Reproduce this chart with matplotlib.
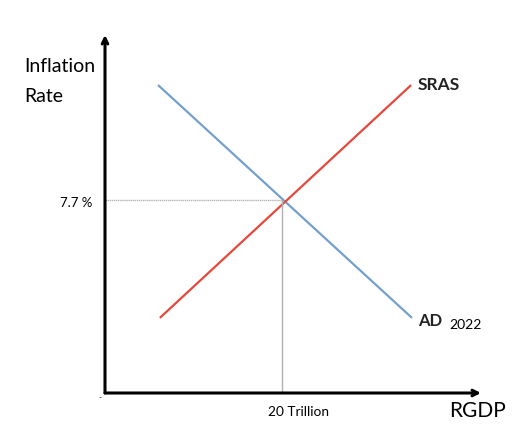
import matplotlib
matplotlib.use('Agg')
import matplotlib.pyplot as plt

plt.rcParams['font.family'] = ['Lato', 'DejaVu Sans']

# data (x in trillions of RGDP, y in inflation %)
ad_x = [6.0, 34.7]
ad_y = [12.3, 3.0]
sras_x = [6.2, 34.6]
sras_y = [3.0, 12.3]
eq_x = 20.0
eq_y = 7.7
x_max = 42.5
y_max = 14.3

fig = plt.figure(figsize=(5.16, 4.30), dpi=100)
ax = fig.add_axes([105/516, 37/430, 376/516, 358/430])
ax.set_xlim(0, x_max)
ax.set_ylim(0, y_max)
ax.axis('off')

# axes with arrows
ax.annotate('', xy=(x_max, 0), xytext=(0, 0), annotation_clip=False,
            arrowprops=dict(arrowstyle='->', color='black', lw=2.2, shrinkA=0, shrinkB=0))
ax.annotate('', xy=(0, y_max), xytext=(0, 0), annotation_clip=False,
            arrowprops=dict(arrowstyle='->', color='black', lw=2.2, shrinkA=0, shrinkB=0))

# curves
ax.plot(ad_x, ad_y, color='#74a0cc', lw=1.6, solid_capstyle='butt')
ax.plot(sras_x, sras_y, color='#e5483d', lw=1.6, solid_capstyle='butt')

# equilibrium guides
ax.plot([0, eq_x], [eq_y, eq_y], color='#b4b4b4', lw=1.0, linestyle=(0, (1, 0.5)))
ax.plot([eq_x, eq_x], [0, eq_y], color='#b0b0b0', lw=1.0)

# labels
fig.text(24/516, 1 - 67/430, 'Inflation', fontsize=14, va='center', ha='left')
fig.text(24/516, 1 - 97/430, 'Rate', fontsize=14, va='center', ha='left')
fig.text(92/516, 1 - 203/430, '7.7 %', fontsize=9.5, va='center', ha='right')
fig.text(268/516, 1 - 412/430, '20 Trillion', fontsize=9.8, va='center', ha='left')
fig.text(449/516, 1 - 411/430, 'RGDP', fontsize=15, va='center', ha='left')
fig.text(418/516, 1 - 85/430, 'SRAS', fontsize=12.5, va='center', ha='left',
         fontweight='bold', color='#222222')
fig.text(418/516, 1 - 321/430, 'AD', fontsize=12, va='center', ha='left',
         fontweight='bold', color='#222222')
fig.text(449/516, 1 - 325/430, '2022', fontsize=10, va='center', ha='left')
fig.text(98/516, 1 - 398/430, '-', fontsize=6, va='center', ha='left')

fig.savefig('out.png', dpi=100)
